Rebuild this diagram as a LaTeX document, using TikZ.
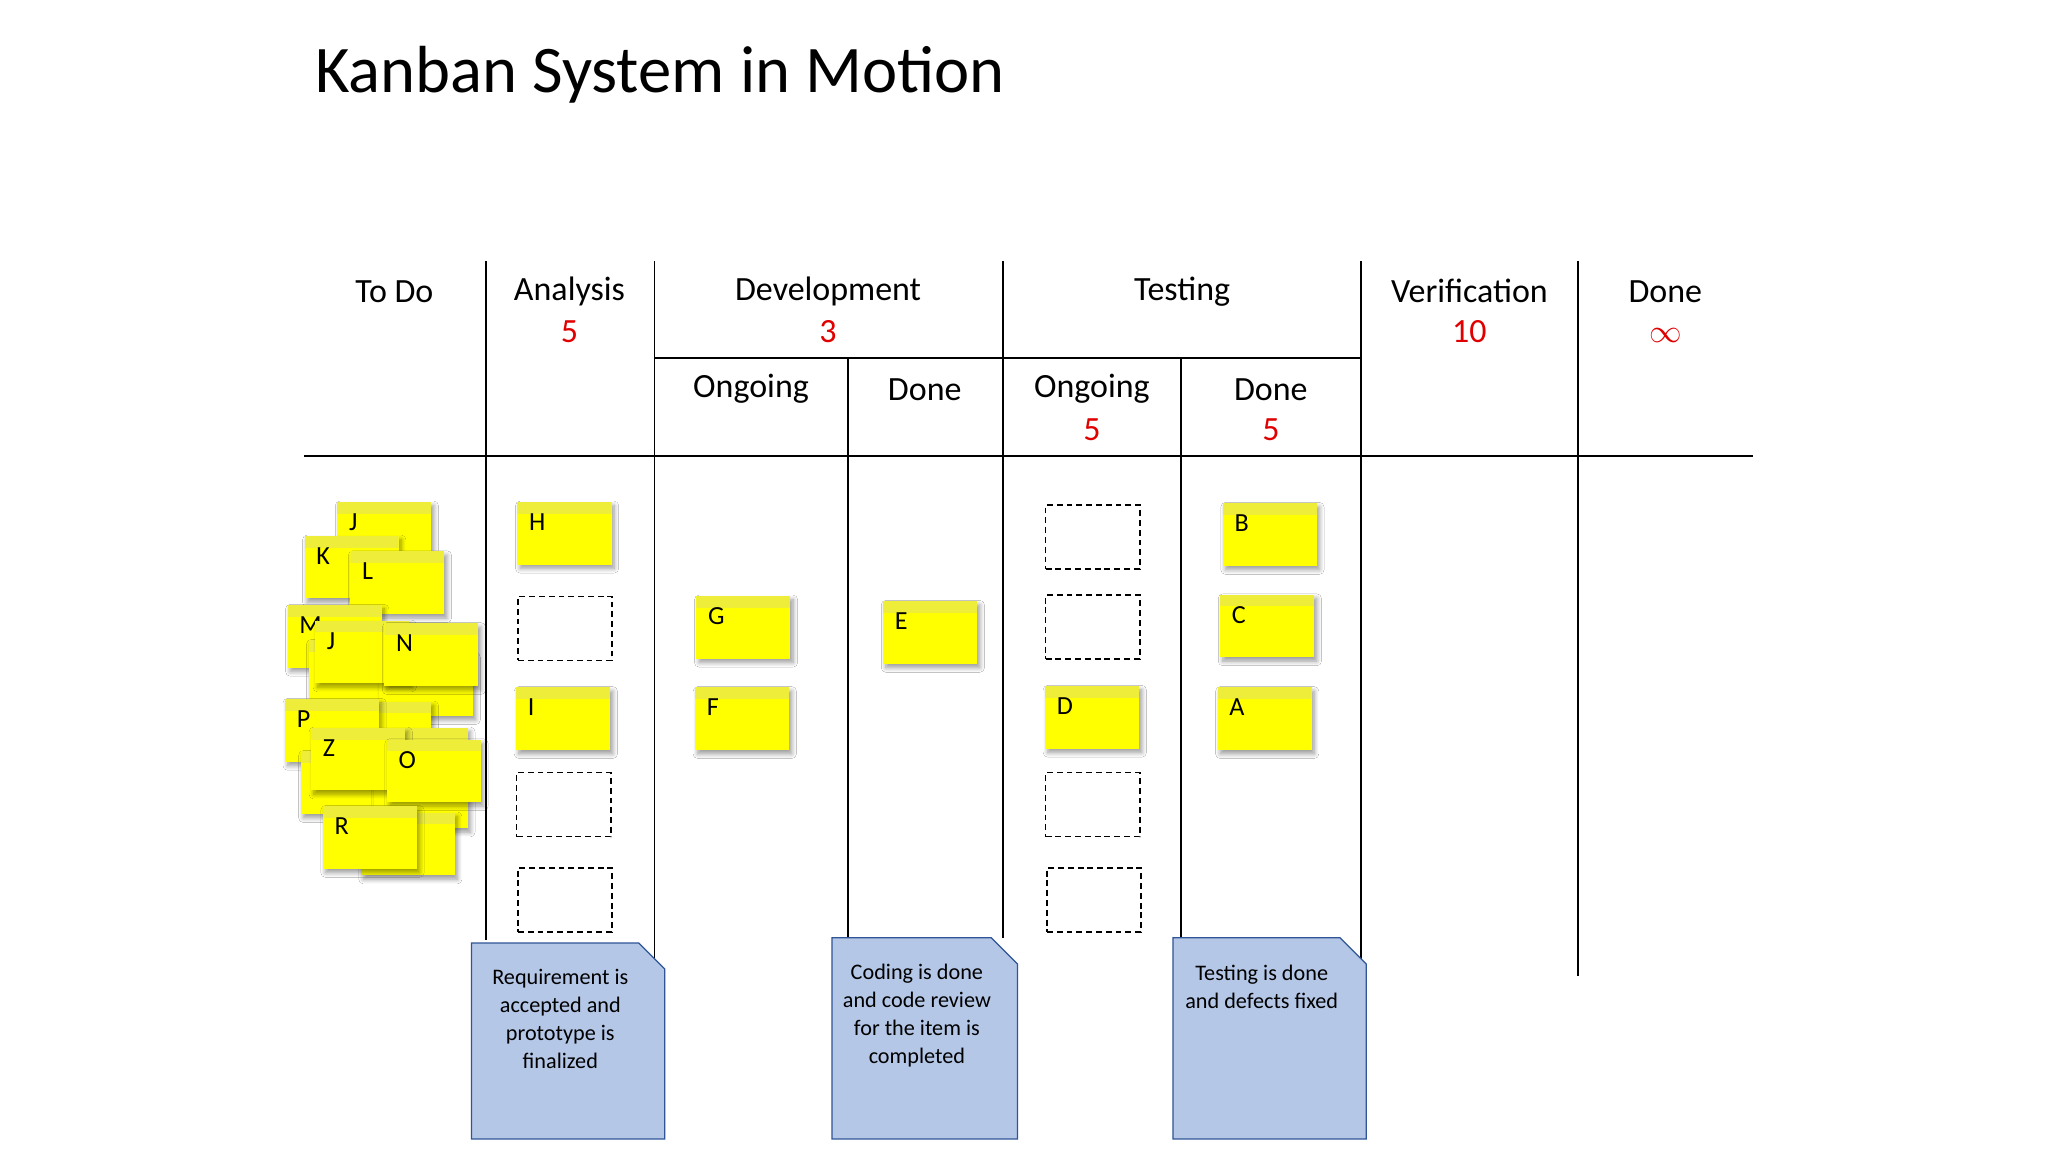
\documentclass[tikz,border=0pt]{standalone}
\usepackage{fontspec}
\setmainfont{Carlito}
\usetikzlibrary{shadows.blur,calc}
\definecolor{stk}{HTML}{FFFF00}
\definecolor{stktop}{HTML}{EDED3A}
\definecolor{docfill}{HTML}{B4C7E7}
\definecolor{docline}{HTML}{2F5597}
\definecolor{lim}{HTML}{E00000}
\begin{document}
\begin{tikzpicture}[x=1pt,y=-1pt,
  sticky/.style={anchor=north west,minimum width=72pt,minimum height=48pt,inner sep=0pt,fill=stk,draw=none,
    blur shadow={shadow blur steps=8,shadow blur radius=3.5pt,shadow xshift=2pt,shadow yshift=-3pt,shadow opacity=40},
    path picture={\fill[stktop] (path picture bounding box.north west) rectangle ([yshift=-9pt]path picture bounding box.north east);}},
  letter/.style={anchor=north west,font=\fontsize{20}{22}\selectfont,inner sep=0pt,xshift=9pt,yshift=-9pt},
  slot/.style={anchor=north west,minimum width=72pt,minimum height=49pt,inner sep=0pt,draw,line width=1.2pt,dash pattern=on 4.5pt off 3pt},
  hd/.style={font=\fontsize{26}{28}\selectfont,inner sep=0pt},
  num/.style={font=\fontsize{26}{28}\selectfont,inner sep=0pt,text=lim},
  grid/.style={line width=1.3pt},
  doc/.style={fill=docfill,draw=docline,line width=1pt},
  doctext/.style={font=\fontsize{17}{21.5}\selectfont,align=center,anchor=north,inner sep=0pt}]
\useasboundingbox (0,0) rectangle (1568,882);
\fill[white] (0,0) rectangle (1568,882);
\node[anchor=west,font=\fontsize{51}{55}\selectfont,inner sep=0pt] (title) at (241,57) {Kanban System in Motion};
% grid
\coordinate (h1a) at (233,349); \coordinate (h1b) at (1342,349);
\draw[grid] (h1a) -- (h1b);
\coordinate (h2a) at (501,274); \coordinate (h2b) at (1042,274);
\draw[grid] (h2a) -- (h2b);
\foreach \n/\x/\ya/\yb in {v1/372/200/720,v2/501/200/735,v3/649/274/718,v4/768/200/718,v5/904/274/718,v6/1042/200/740,v7/1208/200/747}{
  \coordinate (\n a) at (\x,\ya); \coordinate (\n b) at (\x,\yb);
  \draw[grid] (\n a) -- (\n b);}
% headers
\node[hd] (todo) at (302,223) {To Do};
\node[hd] (ana) at (436,223) {Analysis};
\node[num] (anan) at (436,254) {5};
\node[hd] (dev) at (634,223) {Development};
\node[num] (devn) at (634,254) {3};
\node[hd] (test) at (905,223) {Testing};
\node[hd] (ver) at (1125,223) {Verification};
\node[num] (vern) at (1125,254) {10};
\node[hd] (done) at (1275,223) {Done};
\node[num,font=\fontsize{24}{26}\selectfont] (donen) at (1275,257) {$\infty$};
\node[hd] (dong) at (575,298) {Ongoing};
\node[hd] (ddone) at (708,298) {Done};
\node[hd] (tong) at (836,298) {Ongoing};
\node[num] (tongn) at (836,329) {5};
\node[hd] (tdone) at (973,298) {Done};
\node[num] (tdonen) at (973,329) {5};
% slots
\node[slot] (s1) at (396,456) {};
\node[slot] (s2) at (395,591) {};
\node[slot] (s3) at (396,664) {};
\node[slot] (s4) at (800,386) {};
\node[slot] (s5) at (800,455) {};
\node[slot] (s6) at (800,591) {};
\node[slot] (s7) at (801,664) {};
% pile (back to front)
\node[sticky] (p1) at (258,384) {}; \node[letter] (lp1) at (p1.north west) {J};
\node[sticky] (p2) at (233,410) {}; \node[letter] (lp2) at (p2.north west) {K};
\node[sticky] (p3) at (268,422) {}; \node[letter] (lp3) at (p3.north west) {L};
\node[sticky] (p4) at (220,463) {}; \node[letter] (lp4) at (p4.north west) {M};
\node[sticky] (p5) at (236,490) {};
\node[sticky] (p6) at (290,500) {};
\node[sticky] (p7) at (241,475) {}; \node[letter] (lp7) at (p7.north west) {J};
\node[sticky] (p8) at (294,477) {}; \node[letter] (lp8) at (p8.north west) {N};
\node[sticky] (p9) at (258,537) {};
\node[sticky] (p10) at (286,557) {};
\node[sticky] (p11) at (218,535) {}; \node[letter] (lp11) at (p11.north west) {P};
\node[sticky] (p12) at (230,575) {};
\node[sticky] (p13) at (286,586) {};
\node[sticky] (p14) at (238,557) {}; \node[letter] (lp14) at (p14.north west) {Z};
\node[sticky] (p15) at (296,566) {}; \node[letter] (lp15) at (p15.north west) {O};
\node[sticky] (p16) at (276,622) {};
\node[sticky] (p17) at (247,617) {}; \node[letter] (lp17) at (p17.north west) {R};
% board notes
\foreach \n/\x/\y/\t in {h/396/384/H,i/395/526/I,g/533/456/G,f/532/526/F,e/676/460/E,d/800/525/D,b/936/385/B,c/934/455/C,a/932/526/A}{
  \node[sticky] (\n) at (\x,\y) {}; \node[letter] (l\n) at (\n.north west) {\t};}
% docs
\draw[doc] (361,722) -- (489,722) -- (509,742) -- (509,872) -- (361,872) -- cycle;
\node[doctext] (d1) at (429,742) {Requirement is\\accepted and\\prototype is\\finalized};
\draw[doc] (637,718) -- (759,718) -- (779,738) -- (779,872) -- (637,872) -- cycle;
\node[doctext] (d2) at (702,738) {Coding is done\\and code review\\for the item is\\completed};
\draw[doc] (898,718) -- (1026,718) -- (1046,738) -- (1046,872) -- (898,872) -- cycle;
\node[doctext] (d3) at (966,739) {Testing is done\\and defects fixed};
\end{tikzpicture}
\end{document}
